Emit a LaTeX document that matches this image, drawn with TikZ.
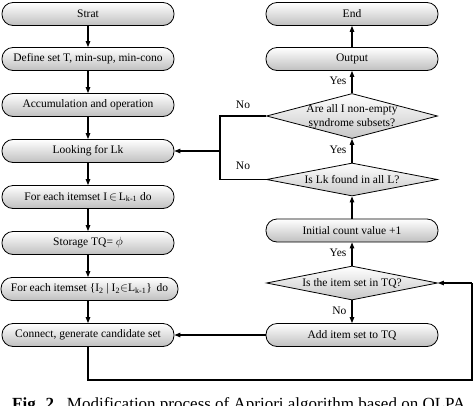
\documentclass[tikz,border=0pt]{standalone}
\usepackage{fontspec}
\setmainfont{Liberation Serif}
\usetikzlibrary{shapes.geometric,arrows.meta}
\begin{document}
\begin{tikzpicture}[x=1pt,y=-1pt,
  stepbox/.style={draw, line width=0.8pt, rounded corners=11pt, minimum width=172pt, minimum height=23pt,
     inner sep=0pt, top color=white, bottom color=black!25, font=\fontsize{11.5}{14}\selectfont},
  dia/.style={draw, line width=0.8pt, diamond, inner sep=0pt, minimum width=171pt, top color=white, bottom color=black!22},
  dtext/.style={align=center, font=\fontsize{11.5}{14}\selectfont, inner sep=0pt},
  lbl/.style={font=\fontsize{11.5}{14}\selectfont, inner sep=0pt},
  conn/.style={line width=1.1pt, -{Triangle[length=6pt,width=4.5pt]}},
  line/.style={line width=1.1pt}
]
\useasboundingbox (0,0) rectangle (474,405);
% left column
\node[stepbox] (strat) at (88,14) {Strat};
\node[stepbox] (def) at (88,59) {Define set T, min-sup, min-cono};
\node[stepbox] (acc) at (88,105) {Accumulation and operation};
\node[stepbox] (look) at (88,151) {Looking for Lk};
\node[stepbox] (fe1) at (88,197) {For each itemset I\,$\in$\,L\textsubscript{k-1} do};
\node[stepbox] (sto) at (88,243) {Storage TQ= $\phi$};
\node[stepbox, minimum width=177pt] (fe2) at (89.5,289) {For each itemset \{I\textsubscript{2} | I\textsubscript{2}$\in$L\textsubscript{k-1}\}\, do};
\node[stepbox] (con) at (88,335) {Connect, generate candidate set};
% right column
\node[stepbox] (end) at (352,14) {End};
\node[stepbox] (out) at (352,59) {Output};
\node[dia, minimum height=45pt] (d1) at (352,116) {};
\node[dtext] at (352,116.5) {Are all I non-empty\\syndrome subsets?};
\node[dia, minimum height=33pt] (d2) at (352,179.5) {};
\node[dtext] at (352,179.5) {Is Lk found in all L?};
\node[stepbox] (init) at (352,230.5) {Initial count value +1};
\node[dia, minimum height=34pt] (d3) at (352,283) {};
\node[dtext] at (352,283) {Is the item set in TQ?};
\node[stepbox] (add) at (352,335) {Add item set to TQ};
\coordinate (jn) at (220,151);
\coordinate (bl) at (88,380);
\coordinate (br) at (472,380);
\coordinate (tr) at (472,283);
% left arrows
\draw[conn] (strat) -- (def);
\draw[conn] (def) -- (acc);
\draw[conn] (acc) -- (look);
\draw[conn] (look) -- (fe1);
\draw[conn] (fe1) -- (sto);
\draw[conn] (sto.south) -- (sto.south |- fe2.north);
\draw[conn] (con.north |- fe2.south) -- (con.north);
% loop
\draw[line] (con.south) -- (bl) -- (br) -- (tr);
\draw[conn] (tr) -- (d3.east);
\draw[conn] (d3) -- node[lbl, left=5pt, pos=0.45] {No} (add);
\draw[conn] (add) -- (con);
\draw[conn] (d3) -- node[lbl, left=5pt, pos=0.55] {Yes} (init);
\draw[conn] (init) -- (d2);
\draw[conn] (d2) -- node[lbl, left=5pt, pos=0.55] {Yes} (d1);
\draw[conn] (d1) -- node[lbl, left=5pt, pos=0.55] {Yes} (out);
\draw[conn] (out) -- (end);
\draw[line] (d2.west) -- (d2.west -| jn) -- (jn);
\draw[line] (d1.west) -- (d1.west -| jn) -- (jn);
\draw[conn] (jn) -- (look.east);
\node[lbl] at (243,105) {No};
\node[lbl] at (243,166) {No};
% caption (cut off at bottom, as in the reference)
\begin{scope}
\clip (0,0) rectangle (474,405);
\node[anchor=base west, inner sep=0pt, font=\fontsize{17}{20}\selectfont] (cap) at (12,409) {\textbf{Fig. 2.}\ \ Modification process of Apriori algorithm based on OLPA};
\end{scope}
\end{tikzpicture}
\end{document}
